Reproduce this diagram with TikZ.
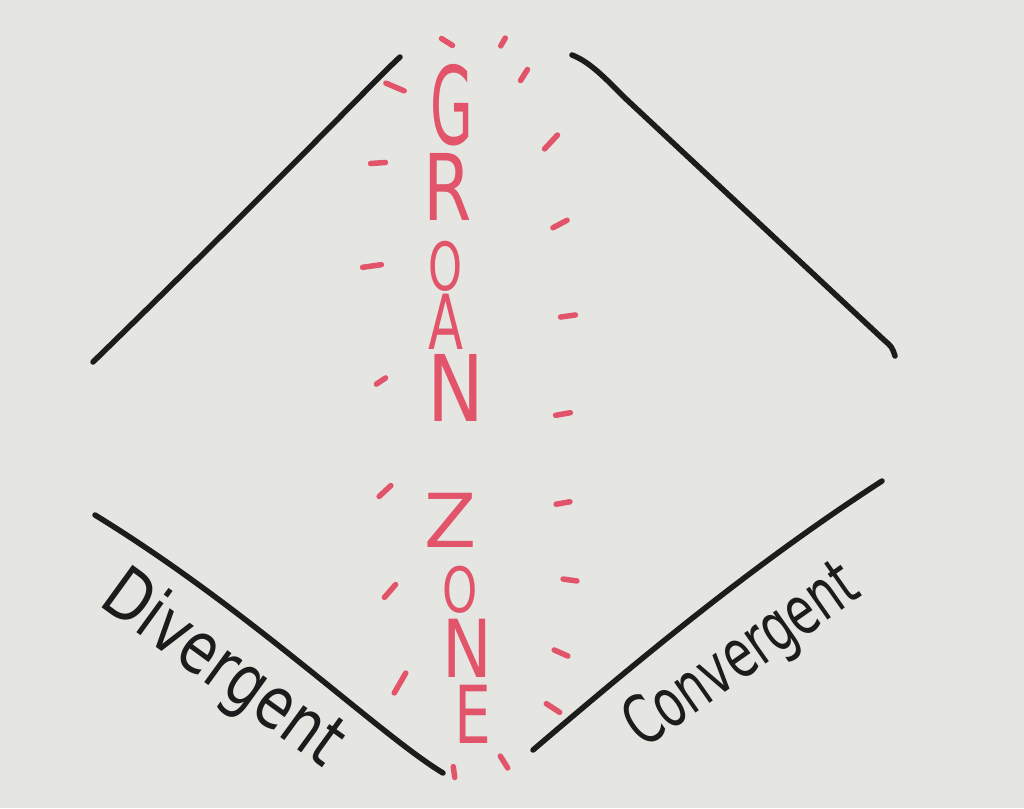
\documentclass[tikz,border=0pt]{standalone}
\usepackage{fontspec}
\setmainfont{DejaVu Sans}
\definecolor{board}{RGB}{229,229,226}
\definecolor{ink}{RGB}{28,28,28}
\definecolor{groan}{RGB}{226,84,106}
\tikzset{
  marker/.style={draw=ink,line width=5.5pt,line cap=round,line join=round},
  redtick/.style={draw=groan,line width=5.5pt,line cap=round},
  letter/.style={text=groan,inner sep=0pt,font=\fontsize{80}{80}\selectfont},
  word/.style={text=ink,inner sep=0pt,anchor=base west}
}

\begin{document}
\begin{tikzpicture}[x=1pt,y=-1pt]
\fill[board] (0,0) rectangle (1024,808);
\useasboundingbox (0,0) rectangle (1024,808);

% the four marker lines
\draw[marker] (93,362) .. controls (300,160) and (375,80) .. (400,57);
\draw[marker] (572,55) .. controls (590,62) and (605,78) .. (625,98) -- (884,340) .. controls (892,347) .. (895,356);
\draw[marker] (95,515) .. controls (250,610) and (380,735) .. (443,773);
\draw[marker] (533,750) .. controls (650,650) and (760,560) .. (882,481);

% groan zone
\node[letter,xscale=0.69,yscale=1.35] (g)  at (452,105) {G};
\node[letter,xscale=0.87,yscale=1.15] (r)  at (448,187) {R};
\node[letter,xscale=0.54,yscale=0.83] (o)  at (445,266) {O};
\node[letter,xscale=0.64,yscale=0.95] (a)  at (446,322) {A};
\node[letter,xscale=0.95,yscale=1.15] (n)  at (456,388) {N};
\node[letter,xscale=0.95,yscale=0.93] (z)  at (451,520) {Z};
\node[letter,xscale=0.56,yscale=0.78] (o2) at (460,590) {O};
\node[letter,xscale=0.83,yscale=1.0]  (n2) at (467,648) {N};
\node[letter,xscale=0.73,yscale=1.0]  (e)  at (473,714) {E};

% ticks round the zone
\foreach \x/\y/\a/\len in {447/42/32/13, 503/42/-60/9, 395/87/23/20, 524/75/-58/13,
    378/163/-4/15, 551/142/-47/19, 372/266/-8/19, 560/224/-28/16, 568/316/-8/15,
    381/381/-34/11, 563/414/-10/15, 385/491/-43/16, 563/503/-10/14, 390/591/-49/17,
    570/580/8/14, 400/683/-60/23, 561/653/24/15, 553/708/33/16, 454/772/82/11,
    504/762/58/14}
  \draw[redtick] (\x,\y) +(\a+180:\len/2) -- +(\a:\len/2);

% labels
\node[word,font=\fontsize{72}{72}\selectfont,rotate=-36,xscale=0.79] (div) at (97,604) {Divergent};
\node[word,font=\fontsize{68}{68}\selectfont,rotate=35,xscale=0.68] (conv) at (643,750) {Convergent};
\end{tikzpicture}
\end{document}
